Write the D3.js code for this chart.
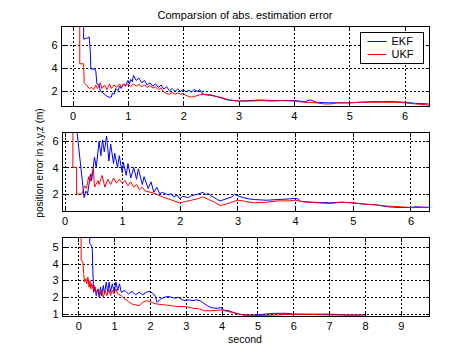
<!DOCTYPE html>
<html><head><meta charset="utf-8">
<script src="https://cdn.jsdelivr.net/npm/d3@7"></script>
<style>
body{margin:0;background:#fff;}
svg{display:block;font-family:"Liberation Sans",Arial,sans-serif;}
</style></head>
<body><svg id="c" width="474" height="355"></svg>
<script>
const title = "Comparsion of abs. estimation error";
const yLabel = "position error in x,y,z (m)";
const xLabel = "second";
const seriesNames = ["EKF", "UKF"];
const seriesColors = ["#0000ff", "#ff0000"];

const xTicks1 = [0,1,2,3,4,5,6];
const yTicks1 = [2,4,6];
const xTicks2 = [0,1,2,3,4,5,6];
const yTicks2 = [2,4,6];
const xTicks3 = [0,1,2,3,4,5,6,7,8,9];
const yTicks3 = [1,2,3,4,5];

// panel 1 (top)
const ekf1 = [[0.2,9],[0.2,6.5],[0.27,6.6],[0.3,6.7],[0.32,5.5],[0.33,3.9],[0.4,3.9],[0.42,3.7],[0.44,2.6],[0.48,2.5],[0.5,2.0],[0.55,1.8],[0.6,1.6],[0.65,1.45],[0.7,1.45],[0.72,1.8],[0.75,1.7],[0.78,2.2],[0.82,2.0],[0.85,2.4],[0.88,2.2],[0.92,2.6],[0.95,2.4],[1.0,2.9],[1.03,2.6],[1.05,3.0],[1.08,2.8],[1.1,3.35],[1.15,2.9],[1.2,3.1],[1.25,2.7],[1.3,2.9],[1.35,2.5],[1.4,2.7],[1.45,2.4],[1.5,2.6],[1.55,2.3],[1.6,2.5],[1.65,2.15],[1.7,2.35],[1.75,2.0],[1.8,2.2],[1.85,1.95],[1.9,2.15],[1.95,1.95],[2.0,2.1],[2.05,1.9],[2.1,2.05],[2.15,1.9],[2.2,2.1],[2.25,1.95],[2.3,2.1],[2.34,1.75],[2.4,1.65],[2.5,1.6],[2.6,1.5],[2.7,1.35],[2.8,1.2],[2.9,1.15],[3.0,1.1],[3.2,1.15],[3.4,1.2],[3.6,1.15],[3.8,1.15],[4.0,1.15],[4.2,1.05],[4.3,1.2],[4.4,1.0],[4.6,0.95],[4.8,0.95],[5.0,0.95],[5.2,1.0],[5.4,1.05],[5.6,1.05],[5.8,1.05],[6.0,1.0],[6.2,0.9],[6.45,0.85]];
const ukf1 = [[0.13,9],[0.13,4.35],[0.2,4.35],[0.21,2.7],[0.25,2.5],[0.3,2.2],[0.35,2.3],[0.38,2.1],[0.42,2.5],[0.45,2.2],[0.5,2.7],[0.53,2.2],[0.58,2.5],[0.62,2.1],[0.67,2.6],[0.7,2.2],[0.75,2.5],[0.8,2.3],[0.85,2.6],[0.88,2.3],[0.92,2.6],[0.95,2.4],[1.0,2.6],[1.05,2.35],[1.1,2.6],[1.15,2.4],[1.2,2.55],[1.25,2.35],[1.3,2.5],[1.35,2.3],[1.4,2.45],[1.45,2.25],[1.5,2.35],[1.55,2.1],[1.6,2.25],[1.65,1.9],[1.7,1.75],[1.75,1.7],[1.8,1.85],[1.85,1.7],[1.9,1.8],[1.95,1.7],[2.0,1.75],[2.05,1.6],[2.1,1.5],[2.15,1.45],[2.2,1.5],[2.3,1.65],[2.4,1.7],[2.5,1.65],[2.6,1.5],[2.7,1.4],[2.8,1.25],[2.9,1.15],[3.0,1.1],[3.2,1.1],[3.4,1.15],[3.6,1.1],[3.8,1.15],[4.0,1.1],[4.2,1.0],[4.4,0.95],[4.55,0.85],[4.65,0.85],[4.8,0.95],[5.0,0.95],[5.2,1.0],[5.4,1.0],[5.6,1.0],[5.8,1.0],[6.0,0.95],[6.2,0.85],[6.45,0.75]];

// panel 2 (middle)
const ekf2 = [[0.22,7.5],[0.22,6.6],[0.34,1.7],[0.37,2.2],[0.4,2.0],[0.45,3.5],[0.47,3.0],[0.52,4.8],[0.55,4.0],[0.6,6.0],[0.63,4.9],[0.66,6.1],[0.69,5.2],[0.73,6.4],[0.77,4.5],[0.8,5.8],[0.85,4.3],[0.87,5.1],[0.92,4.0],[0.95,4.9],[1.0,3.6],[1.02,4.4],[1.07,3.4],[1.1,4.3],[1.15,3.2],[1.2,4.0],[1.25,3.1],[1.28,3.9],[1.35,2.7],[1.38,3.3],[1.45,2.4],[1.5,2.9],[1.55,2.1],[1.6,2.5],[1.65,2.0],[1.7,2.1],[1.8,1.9],[1.85,2.0],[1.9,1.75],[1.95,1.9],[2.0,1.6],[2.05,1.8],[2.15,1.7],[2.2,1.85],[2.3,1.95],[2.4,2.1],[2.45,1.95],[2.5,2.0],[2.55,1.8],[2.6,1.7],[2.65,1.55],[2.7,1.45],[2.8,1.6],[2.9,1.75],[2.95,1.95],[3.0,1.85],[3.1,1.7],[3.2,1.6],[3.3,1.55],[3.5,1.5],[3.7,1.55],[3.9,1.6],[4.0,1.65],[4.05,1.6],[4.1,1.4],[4.3,1.35],[4.6,1.3],[4.8,1.35],[5.0,1.3],[5.2,1.2],[5.4,1.15],[5.6,1.0],[5.8,0.95],[6.0,0.95],[6.1,1.0],[6.33,0.95]];
const ukf2 = [[0.145,7.5],[0.145,4.0],[0.21,4.0],[0.21,1.97],[0.3,1.97],[0.35,2.6],[0.38,2.4],[0.42,3.3],[0.44,2.9],[0.48,3.6],[0.5,3.9],[0.52,2.5],[0.58,3.0],[0.6,2.7],[0.65,3.4],[0.7,2.5],[0.75,3.1],[0.8,2.7],[0.85,3.2],[0.9,2.8],[0.95,3.1],[1.0,2.8],[1.05,3.0],[1.1,2.6],[1.15,2.9],[1.2,2.5],[1.25,2.7],[1.3,2.3],[1.35,2.5],[1.4,2.2],[1.5,2.1],[1.6,1.95],[1.7,1.75],[1.8,1.6],[1.9,1.45],[2.0,1.3],[2.1,1.4],[2.2,1.5],[2.3,1.6],[2.4,1.75],[2.5,1.55],[2.6,1.35],[2.7,1.1],[2.8,1.2],[2.9,1.35],[3.0,1.5],[3.1,1.45],[3.2,1.35],[3.3,1.3],[3.5,1.35],[3.7,1.45],[3.9,1.45],[4.0,1.5],[4.2,1.35],[4.4,1.3],[4.6,1.25],[4.8,1.35],[5.0,1.3],[5.2,1.2],[5.4,1.15],[5.6,1.05],[5.8,1.0],[6.0,0.95],[6.33,0.95]];

// panel 3 (bottom)
const ekf3 = [[0.32,6],[0.32,5.2],[0.36,5.1],[0.39,4.9],[0.41,3.4],[0.43,2.3],[0.47,2.6],[0.5,2.1],[0.55,2.5],[0.58,2.0],[0.62,2.6],[0.65,2.1],[0.7,2.7],[0.73,2.2],[0.78,2.9],[0.82,2.3],[0.86,2.9],[0.9,2.3],[0.95,2.8],[1.0,2.3],[1.05,2.9],[1.1,2.4],[1.15,2.8],[1.2,2.3],[1.3,2.4],[1.4,2.2],[1.5,2.35],[1.6,2.15],[1.7,2.3],[1.8,2.15],[1.9,2.3],[2.0,2.35],[2.1,2.2],[2.15,2.05],[2.2,1.7],[2.3,1.9],[2.4,2.0],[2.5,2.05],[2.6,2.0],[2.7,1.95],[2.8,2.0],[2.9,1.85],[3.0,1.8],[3.1,1.85],[3.2,1.8],[3.3,1.85],[3.4,1.8],[3.5,1.65],[3.6,1.5],[3.7,1.4],[3.8,1.35],[3.9,1.35],[4.0,1.4],[4.02,1.25],[4.2,1.2],[4.4,1.05],[4.6,0.95],[4.8,0.95],[5.0,0.95],[5.2,1.0],[5.5,1.05],[5.8,1.05],[6.0,1.0],[6.5,1.0],[7.0,1.0],[7.5,0.95],[8.0,0.95]];
const ukf3 = [[0.08,6],[0.08,4.2],[0.13,4.1],[0.15,3.4],[0.18,2.9],[0.21,3.1],[0.24,2.8],[0.27,3.2],[0.3,2.6],[0.33,3.0],[0.35,2.5],[0.38,2.8],[0.42,2.4],[0.45,2.7],[0.5,2.3],[0.55,2.5],[0.6,2.1],[0.65,2.4],[0.7,2.0],[0.75,2.4],[0.8,2.1],[0.85,2.5],[0.9,2.1],[0.95,2.4],[1.0,2.2],[1.05,2.5],[1.1,2.2],[1.2,2.1],[1.3,1.9],[1.4,1.75],[1.5,1.6],[1.6,1.55],[1.7,1.5],[1.8,1.7],[1.9,1.8],[2.0,1.75],[2.1,1.65],[2.2,1.6],[2.4,1.55],[2.6,1.5],[2.8,1.45],[3.0,1.45],[3.2,1.35],[3.4,1.3],[3.5,1.2],[3.7,1.2],[4.0,1.25],[4.2,1.15],[4.4,1.05],[4.6,0.95],[5.0,0.92],[5.5,0.95],[6.0,1.0],[6.5,0.98],[7.0,0.95],[7.5,0.95],[8.0,0.95]];

const panels = [
  {box:[61,26,429,106], xd:[-0.2,6.45], yd:[0.63,7.6], xt:xTicks1, yt:yTicks1, series:[ekf1,ukf1], legend:true},
  {box:[62,132,429,211], xd:[-0.035,6.33], yd:[0.64,6.67], xt:xTicks2, yt:yTicks2, series:[ekf2,ukf2]},
  {box:[62,237,429,316], xd:[-0.44,9.8], yd:[0.86,5.55], xt:xTicks3, yt:yTicks3, series:[ekf3,ukf3]}
];

const svg = d3.select("#c");
svg.append("rect").attr("width",474).attr("height",355).attr("fill","#fff");
const fmt = d3.format("d");

panels.forEach((p,i) => {
  const [x0,y0,x1,y1] = p.box;
  const w = x1-x0, h = y1-y0;
  const x = d3.scaleLinear().domain(p.xd).range([0,w]);
  const y = d3.scaleLinear().domain(p.yd).range([h,0]);
  const g = svg.append("g").attr("transform",`translate(${x0+0.5},${y0+0.5})`);
  g.append("rect").attr("width",w).attr("height",h).attr("fill","#fff");
  // grid
  const gx = g.append("g").attr("transform",`translate(0,${h})`)
    .call(d3.axisBottom(x).tickValues(p.xt).tickSize(-h).tickFormat(""));
  const gy = g.append("g").call(d3.axisLeft(y).tickValues(p.yt).tickSize(-w).tickFormat(""));
  [gx,gy].forEach(a=>{a.select(".domain").remove();
    a.selectAll("line").attr("stroke","#000").attr("stroke-dasharray","2,2").attr("shape-rendering","crispEdges");});
  // data
  const cid = "clip"+i;
  g.append("clipPath").attr("id",cid).append("rect").attr("width",w).attr("height",h);
  const line = d3.line().x(d=>x(d[0])).y(d=>y(d[1]));
  p.series.forEach((s,k)=>{
    g.append("path").datum(s).attr("clip-path",`url(#${cid})`)
      .attr("fill","none").attr("stroke",seriesColors[k]).attr("stroke-width",1)
      .attr("stroke-linejoin","miter").attr("d",line);
  });
  // axes with inward ticks
  const fs = "11px";
  const ab = g.append("g").attr("transform",`translate(0,${h})`)
    .call(d3.axisBottom(x).tickValues(p.xt).tickFormat(fmt).tickSizeInner(-4).tickSizeOuter(0).tickPadding(6));
  const at = g.append("g").call(d3.axisTop(x).tickValues(p.xt).tickSizeInner(-4).tickSizeOuter(0).tickFormat(""));
  const al = g.append("g").call(d3.axisLeft(y).tickValues(p.yt).tickFormat(fmt).tickSizeInner(-4).tickSizeOuter(0).tickPadding(4));
  const ar = g.append("g").attr("transform",`translate(${w},0)`)
    .call(d3.axisRight(y).tickValues(p.yt).tickSizeInner(-4).tickSizeOuter(0).tickFormat(""));
  [ab,at,al,ar].forEach(a=>{a.select(".domain").remove();
    a.selectAll("line").attr("stroke","#000").attr("shape-rendering","crispEdges");
    a.selectAll("text").attr("font-size",fs).attr("font-family","Liberation Sans, Arial, sans-serif").attr("fill","#000");
    a.attr("font-size",null).attr("font-family",null);});
  g.append("rect").attr("width",w).attr("height",h).attr("fill","none")
    .attr("stroke","#000").attr("shape-rendering","crispEdges");

  if (p.legend) {
    const lg = svg.append("g").attr("transform","translate(360.5,32.5)");
    lg.append("rect").attr("width",63).attr("height",31).attr("fill","#fff")
      .attr("stroke","#000").attr("shape-rendering","crispEdges");
    seriesNames.forEach((n,k)=>{
      const yy = 9 + k*13;
      lg.append("line").attr("x1",7).attr("x2",26).attr("y1",yy).attr("y2",yy)
        .attr("stroke",seriesColors[k]).attr("stroke-width",1);
      lg.append("text").attr("x",31).attr("y",yy).attr("dy","0.35em")
        .attr("font-size","11px").text(n);
    });
  }
});

svg.append("text").attr("x",245).attr("y",19).attr("text-anchor","middle")
  .attr("font-size","11px").text(title);
svg.append("text").attr("x",245).attr("y",343).attr("text-anchor","middle")
  .attr("font-size","10.5px").text(xLabel);
svg.append("text").attr("transform","translate(43,163) rotate(-90)").attr("text-anchor","middle")
  .attr("font-size","10px").text(yLabel);
</script></body></html>
